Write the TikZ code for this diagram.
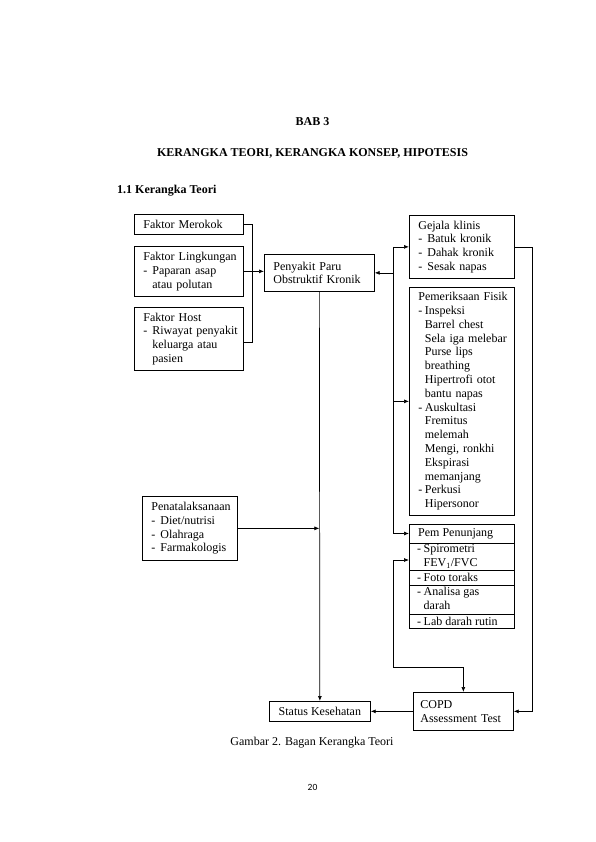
\documentclass[tikz,border=0pt]{standalone}
\usepackage{fontspec}
\setmainfont{Liberation Serif}
\newfontfamily\pagefont{Carlito}
\usetikzlibrary{arrows.meta}
\newlength\ii
\setlength\ii{9pt}
\newcommand{\hd}[1]{\mbox{#1}}
\newcommand{\itm}[1]{\mbox{\makebox[\ii][l]{-}#1}}
\newcommand{\ind}[1]{\mbox{\hspace*{\ii}#1}}
\newcommand{\itms}[1]{\mbox{\makebox[6.5pt][l]{-}#1}}
\newcommand{\inds}[1]{\mbox{\hspace*{6.5pt}#1}}
\begin{document}
\begin{tikzpicture}[x=1pt,y=-1pt,
  fs/.style={font=\fontsize{12}{13.8}\selectfont},
  box/.style={draw, line width=0.7pt, anchor=north west, inner xsep=9pt, inner ysep=0pt, align=left, fs},
  plain/.style={inner sep=0pt, fs},
  arr/.style={line width=0.7pt, -{Latex[length=5pt,width=4pt]}},
  ln/.style={line width=0.7pt},
  dbl/.style={line width=0.7pt, {Latex[length=5pt,width=4pt]}-{Latex[length=5pt,width=4pt]}}]
\useasboundingbox (0,0) rectangle (595,842);
\fill[white] (0,0) rectangle (595,842);

% headings
\node[plain, font=\fontsize{12}{14}\selectfont\bfseries] (bab) at (312.5,122) {BAB 3};
\node[plain, font=\fontsize{12}{14}\selectfont\bfseries] (judul) at (312.5,153) {KERANGKA TEORI, KERANGKA KONSEP, HIPOTESIS};
\node[plain, anchor=west, font=\fontsize{12}{14}\selectfont\bfseries] (sub) at (117,191) {1.1 Kerangka Teori};

% left factor boxes
\node[box, text width=91pt, minimum height=20pt] (merokok) at (134,214) {\hd{Faktor Merokok}};
\node[box, text width=91pt, minimum height=50pt] (lingk) at (134,246) {\hd{Faktor Lingkungan}\\ \itm{Paparan asap}\\ \ind{atau polutan}};
\node[box, text width=91pt, minimum height=63pt] (host) at (134,307) {\hd{Faktor Host}\\ \itm{Riwayat penyakit}\\ \ind{keluarga atau}\\ \ind{pasien}};

% PPOK
\node[box, text width=92pt, minimum height=37pt] (ppok) at (264,254) {\hd{Penyakit Paru}\\ \hd{Obstruktif Kronik}};

% right boxes
\node[box, text width=87pt, minimum height=63pt] (gejala) at (409,215) {\hd{Gejala klinis}\\ \itm{Batuk kronik}\\ \itm{Dahak kronik}\\ \itm{Sesak napas}};
\node[box, text width=87pt, minimum height=228pt] (fisik) at (409,287) {\hd{Pemeriksaan Fisik}\\ \itms{Inspeksi}\\ \inds{Barrel chest}\\ \inds{Sela iga melebar}\\ \inds{Purse lips}\\ \inds{breathing}\\ \inds{Hipertrofi otot}\\ \inds{bantu napas}\\ \itms{Auskultasi}\\ \inds{Fremitus}\\ \inds{melemah}\\ \inds{Mengi, ronkhi}\\ \inds{Ekspirasi}\\ \inds{memanjang}\\ \itms{Perkusi}\\ \inds{Hipersonor}};

% Pem Penunjang (table-like box)
\node[draw, line width=0.7pt, anchor=north west, minimum width=105pt, minimum height=104pt, inner sep=0pt] (pen) at (409,524) {};
\draw[ln] (409,543) -- (514,543);
\draw[ln] (409,570) -- (514,570);
\draw[ln] (409,585) -- (514,585);
\draw[ln] (409,614) -- (514,614);
\node[plain, anchor=west] (pt) at (418,533.5) {Pem Penunjang};
\node[plain, anchor=west, align=left] (sp) at (417,556.5) {\itms{Spirometri}\\ \inds{FEV\textsubscript{1}/FVC}};
\node[plain, anchor=west] (ft) at (417,577.5) {\itms{Foto toraks}};
\node[plain, anchor=west, align=left] (ag) at (417,598) {\itms{Analisa gas}\\ \inds{darah}};
\node[plain, anchor=west] (lab) at (417,621) {\itms{Lab darah rutin}};

% Penatalaksanaan
\node[box, text width=77pt, minimum height=64pt] (pena) at (142,496) {\hd{Penatalaksanaan}\\ \itm{Diet/nutrisi}\\ \itm{Olahraga}\\ \itm{Farmakologis}};

% Status & COPD
\node[draw, line width=0.7pt, anchor=north west, minimum width=101pt, minimum height=20pt, inner sep=0pt, fs] (status) at (269,701) {Status Kesehatan};
\node[box, inner xsep=7pt, text width=86pt, minimum height=38pt] (copd) at (413,692) {\hd{COPD}\\ \hd{Assessment Test}};

% caption and page number
\node[plain] (cap) at (312,743) {Gambar 2. Bagan Kerangka Teori};
\node[inner sep=0pt, font=\pagefont\fontsize{9.5}{11}\selectfont] (pg) at (312.5,787) {20};

% connectors: left factors
\coordinate (lbus) at (252,342);
\draw[ln] (merokok.east) -| (lbus) -- (lbus -| host.east);
\draw[arr] (lingk.east) -- (lingk.east -| ppok.west);

% main vertical
\draw[arr] (ppok.south) -- (status.north);
\draw[arr] (pena.east) -- (pena.east -| ppok.south);

% right bus
\coordinate (rbus) at (393,0);
\draw[ln] (rbus |- gejala.west) -- (rbus |- pt.west);
\draw[arr] (rbus |- gejala.west) -- (gejala.west);
\draw[arr] (rbus |- fisik.west) -- (fisik.west);
\draw[arr] (rbus |- pt.west) -- (pt.west -| pen.west);
\draw[arr] (rbus |- ppok.east) -- (ppok.east);

% spirometri loop
\coordinate (lp) at (393,667);
\draw[dbl] ([yshift=-3.5pt]sp.west -| pen.west) -| (lp) -| (copd.north);

% gejala to COPD
\coordinate (rr) at (532,0);
\draw[arr] (gejala.east) -- (gejala.east -| rr) |- (copd.east);

% COPD to status
\draw[arr] (copd.west) -- (copd.west -| status.east);
\end{tikzpicture}
\end{document}
